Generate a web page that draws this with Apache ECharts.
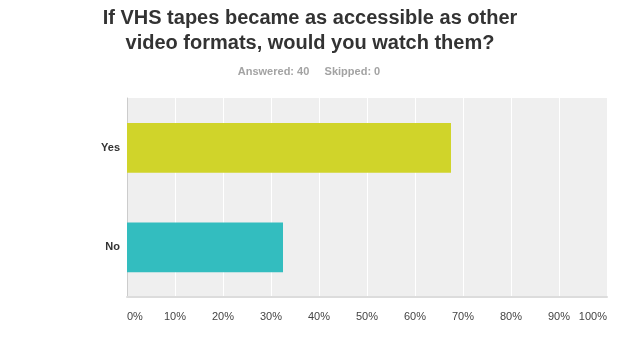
<!DOCTYPE html>
<html>
<head>
<meta charset="utf-8">
<script src="https://cdn.jsdelivr.net/npm/echarts@6/dist/echarts.min.js"></script>
<style>
  html, body { margin: 0; padding: 0; background: #fff; }
  #chart { width: 623px; height: 352px; }
</style>
</head>
<body>
<div id="chart"></div>
<script>
// survey answers
const categories = ['Yes', 'No']
const percents = [67.5, 32.5]
const barColors = ['#d0d42a', '#33bdbf']
const xTicks = [0, 10, 20, 30, 40, 50, 60, 70, 80, 90, 100]

const chart = echarts.init(document.getElementById('chart'))

const option = {
  animation: false,
  textStyle: { fontFamily: 'Liberation Sans, Arial, sans-serif' },
  title: [{
    text: 'If VHS tapes became as accessible as other\nvideo formats, would you watch them?',
    left: 305,
    textAlign: 'center',
    top: 1,
    textStyle: {
      fontSize: 20,
      fontWeight: 'bold',
      color: '#333',
      lineHeight: 25
    }
  }, {
    text: 'Answered: 40     Skipped: 0',
    left: 304,
    textAlign: 'center',
    top: 61,
    textStyle: {
      fontSize: 11,
      fontWeight: 'bold',
      color: '#a3a3a3'
    }
  }],
  grid: {
    left: 127,
    right: 16,
    top: 98,
    bottom: 55,
    show: true,
    backgroundColor: '#efefef',
    borderWidth: 0
  },
  xAxis: {
    type: 'value',
    min: xTicks[0],
    max: xTicks[xTicks.length - 1],
    interval: 10,
    axisLine: { show: true, lineStyle: { color: '#dcdcdc', width: 2 } },
    axisTick: { show: false },
    splitLine: { show: true, lineStyle: { color: '#ffffff', width: 1 } },
    axisLabel: {
      formatter: '{value}%',
      fontSize: 11,
      color: '#444',
      margin: 14,
      alignMinLabel: 'left',
      alignMaxLabel: 'right'
    }
  },
  yAxis: {
    type: 'category',
    data: categories,
    inverse: true,
    axisLine: { show: true, lineStyle: { color: '#cccccc', width: 1 } },
    axisTick: { show: false },
    axisLabel: {
      fontSize: 11,
      fontWeight: 'bold',
      color: '#333',
      margin: 7
    }
  },
  series: [{
    type: 'bar',
    barWidth: '50%',
    data: percents.map((v, i) => ({
      value: v,
      itemStyle: { color: barColors[i] }
    }))
  }]
}

chart.setOption(option)
</script>
</body>
</html>
